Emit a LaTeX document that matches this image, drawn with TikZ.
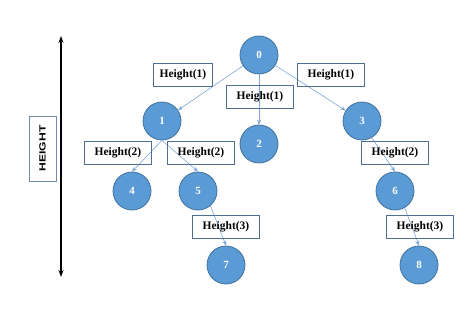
\documentclass[tikz,border=0pt]{standalone}
\usepackage{fontspec}
\setmainfont{Liberation Serif}
\setsansfont{Liberation Sans}
\usetikzlibrary{arrows.meta}
\definecolor{Fill}{HTML}{5B9BD5}
\definecolor{Edge}{HTML}{41719C}
\definecolor{Link}{HTML}{7EA6D9}
\definecolor{Frame}{HTML}{4F6E96}
\tikzset{vert/.style={circle,draw=Edge,fill=Fill,line width=.8pt,minimum size=38pt,inner sep=0pt,text=white,font=\fontsize{11}{13}\selectfont\bfseries},lbl/.style={draw=Frame,line width=.8pt,minimum width=67pt,minimum height=23pt,inner sep=0pt,font=\fontsize{11.5}{13}\selectfont\bfseries},flow/.style={-{Stealth[length=5pt,width=4pt]},line width=.6pt,draw=Link},axis/.style={{Stealth[length=7pt,width=5pt]}-{Stealth[length=7pt,width=5pt]},line width=1.8pt}}

\begin{document}
\begin{tikzpicture}[x=1pt,y=-1pt]
\useasboundingbox (0,0) rectangle (474,313);
\node[vert] (n0) at (259,55) {0};
\node[vert] (n1) at (162,121) {1};
\node[vert] (n2) at (259,144) {2};
\node[vert] (n3) at (362,121) {3};
\node[vert] (n4) at (132,191) {4};
\node[vert] (n5) at (198,191) {5};
\node[vert] (n6) at (395,191) {6};
\node[vert] (n7) at (226,265) {7};
\node[vert] (n8) at (419,265) {8};
\draw[flow] (n0)--(n1);\draw[flow] (n0)--(n2);\draw[flow] (n0)--(n3);
\draw[flow] (n1.south)--(n4.north);\draw[flow] (n1.south)--(n5.north);
\draw[flow] (n3.-60)--(n6.north);\draw[flow] (n5.-50)--(n7.north);\draw[flow] (n6.-60)--(n8.north);
\node[lbl,minimum width=59pt] (h1a) at (183,75) {Height(1)};
\node[lbl] (h1b) at (260,97) {Height(1)};
\node[lbl] (h1c) at (331,75) {Height(1)};
\node[lbl] (h2a) at (118,153) {Height(2)};
\node[lbl] (h2b) at (201,153) {Height(2)};
\node[lbl] (h2c) at (395,153) {Height(2)};
\node[lbl] (h3a) at (226,227) {Height(3)};
\node[lbl] (h3b) at (420,227) {Height(3)};
\coordinate (top) at (61,36);
\coordinate (bot) at (61,277);
\draw[axis] (top)--(bot);
\node[draw=Frame!80,line width=.8pt,minimum width=65pt,minimum height=27pt,inner sep=0pt,rotate=90,font=\sffamily\bfseries\fontsize{9}{10}\selectfont] (ht) at (42.5,148.5) {\scalebox{1.35}[1]{HEIGHT}};
\end{tikzpicture}
\end{document}
